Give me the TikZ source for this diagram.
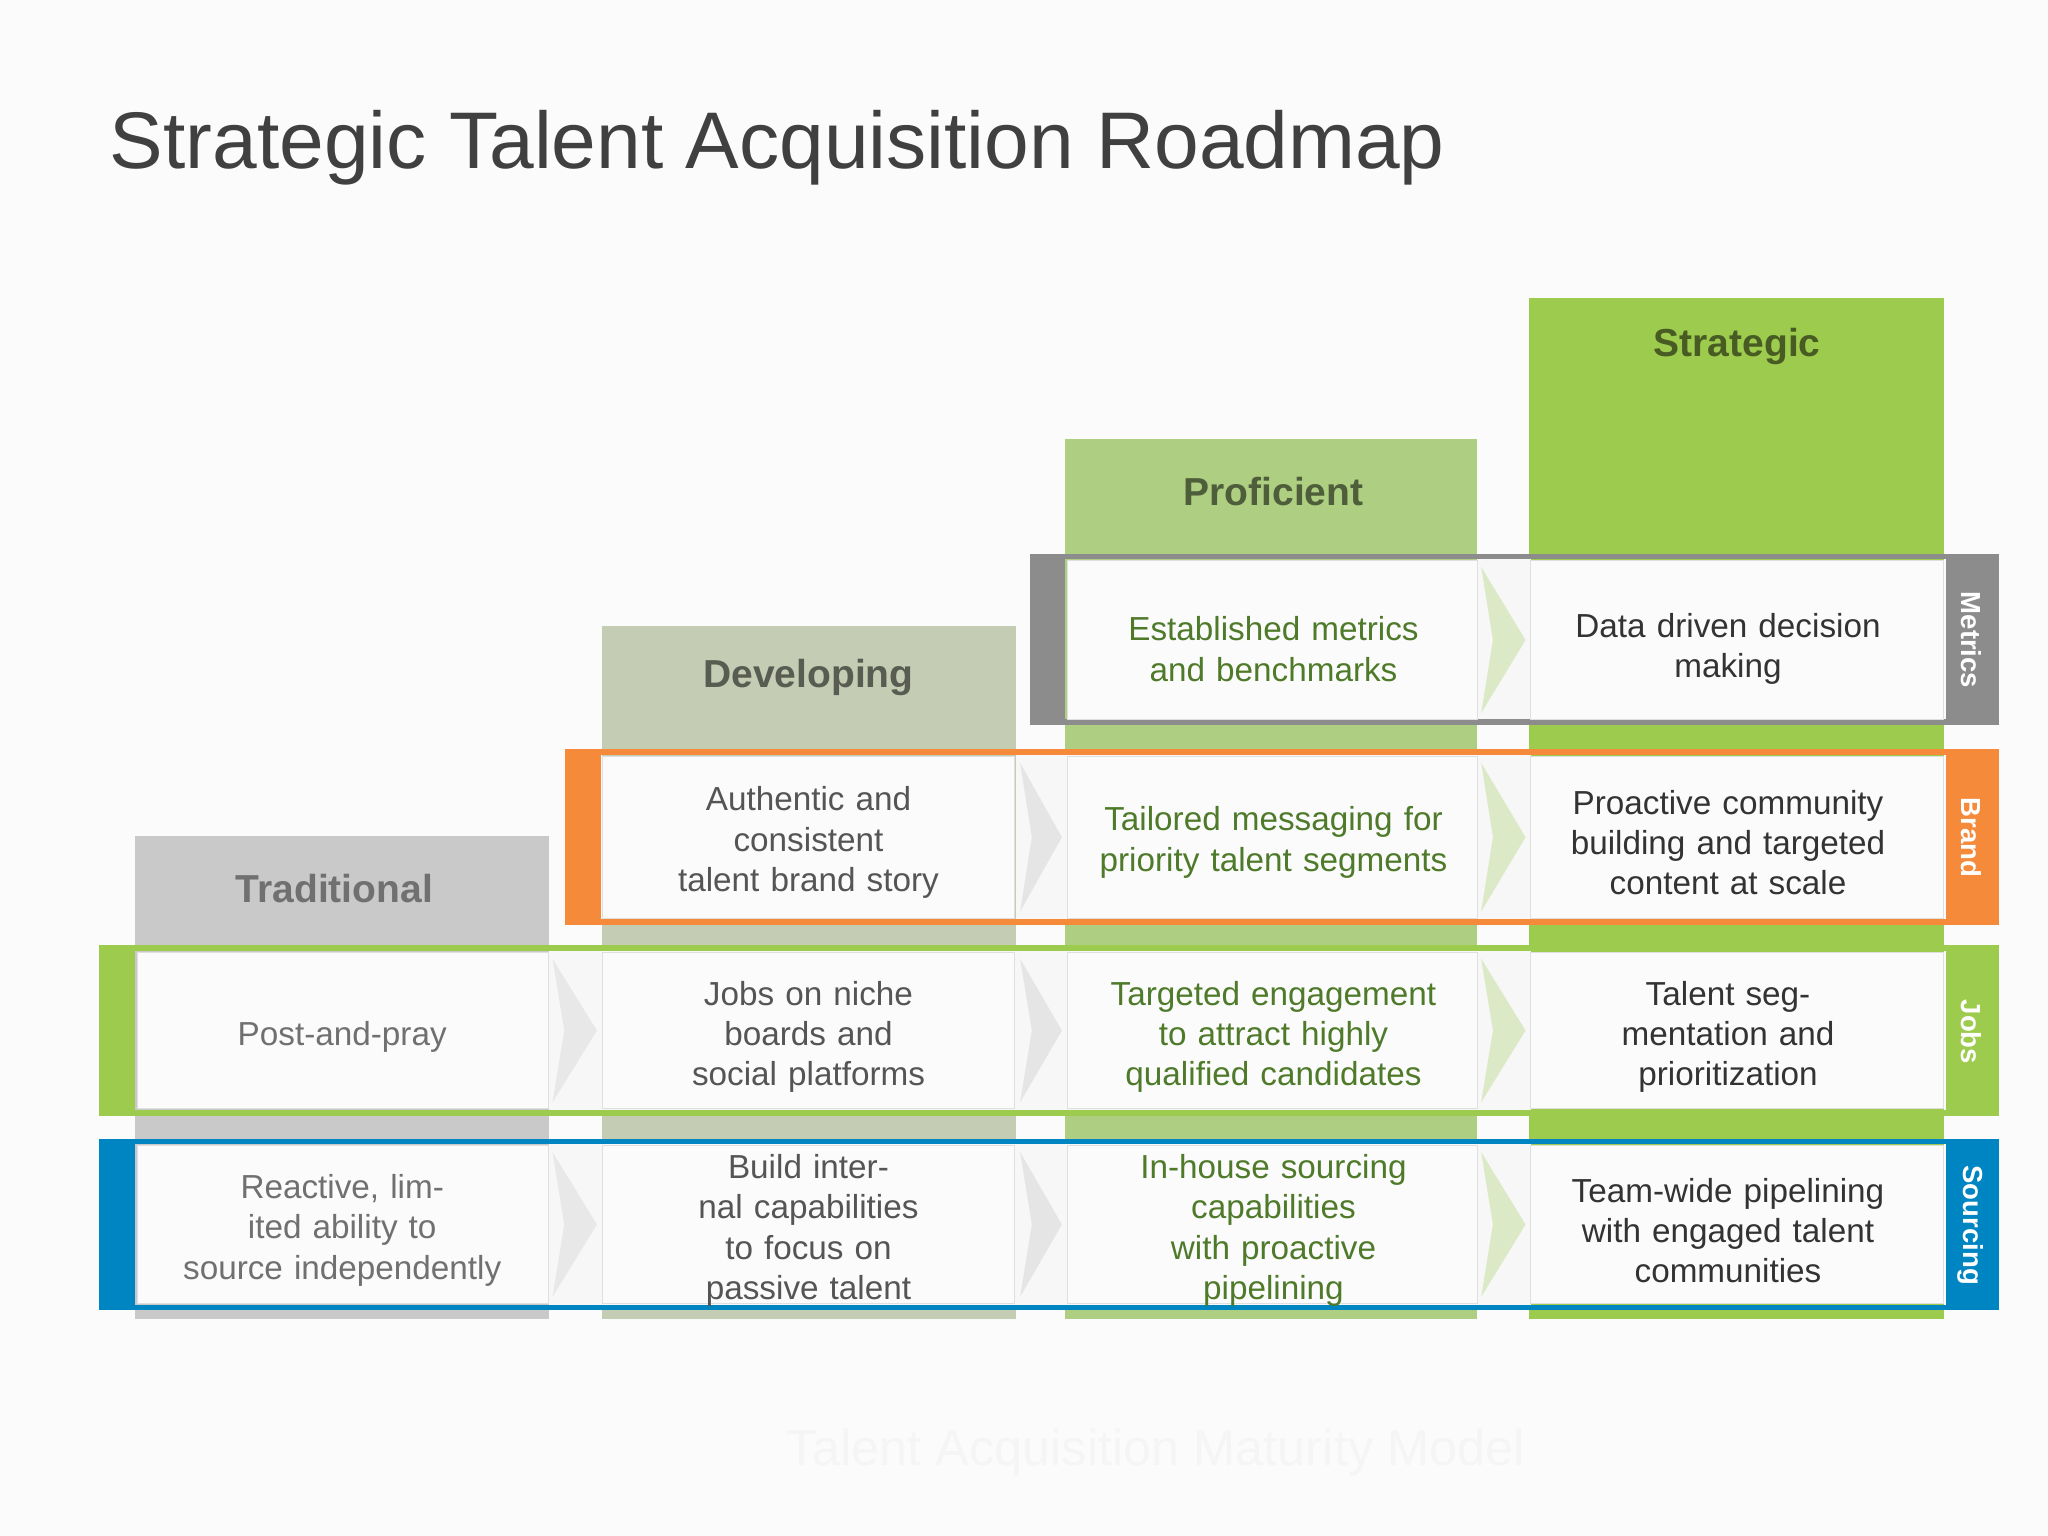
\documentclass[tikz,border=0pt]{standalone}
\usepackage{fontspec}
\setmainfont{Liberation Sans}
\begin{document}
\begin{tikzpicture}[x=0.02cm,y=-0.02cm,
  cellbox/.style={fill=white!97!gray,draw=gray!25,line width=0.4pt},
  celltxt/.style={align=center,font=\fontsize{14.5}{17.5}\selectfont,text width=5.4cm},
  hdr/.style={font=\fontsize{17}{20}\selectfont\bfseries},
  tab/.style={text=white,font=\fontsize{12}{14}\selectfont\bfseries,rotate=-90},
  chev/.style={fill=gray!18,draw=none}]
\definecolor{cTrad}{HTML}{C9C9C9}\definecolor{cDev}{HTML}{C5CCB4}
\definecolor{cProf}{HTML}{AECF82}\definecolor{cStrat}{HTML}{9DCB4E}
\definecolor{cMet}{HTML}{8C8C8C}\definecolor{cBrand}{HTML}{F58A3A}
\definecolor{cJobs}{HTML}{9DCB4E}\definecolor{cSrc}{HTML}{0085C3}
\definecolor{tTrad}{HTML}{707070}\definecolor{tDev}{HTML}{555555}
\definecolor{tProf}{HTML}{4E7A2A}\definecolor{tStrat}{HTML}{333333}
\useasboundingbox (0,0) rectangle (1568,1176);
\fill[white!97!gray] (0,0) rectangle (1568,1176);
\node[anchor=west,text=black!75,font=\fontsize{35}{40}\selectfont] (title) at (78,113) {Strategic Talent Acquisition Roadmap};
% columns
\fill[cTrad] (103,640) rectangle (420,1010);
\fill[cDev] (461,479) rectangle (778,1010);
\fill[cProf] (815,336) rectangle (1131,1010);
\fill[cStrat] (1171,228) rectangle (1488,1010);
\node[hdr,text=tTrad] (h1) at (256,680) {Traditional};
\node[hdr,text=black!55!cDev] (h2) at (619,519) {Developing};
\node[hdr,text=black!55!cProf] (h3) at (975,376) {Proficient};
\node[hdr,text=black!55!cStrat] (h4) at (1330,265) {Strategic};
% chevron helper: gap x1,x2, row y1,y2
\newcommand\chv[5]{\fill[#5] (#1+3,#3+6) -- (#2-4,{(#3+#4)/2}) -- (#1+3,#4-6) -- (#1+12,{(#3+#4)/2}) -- cycle;}
% METRICS
\fill[white!94!gray] (1131,428) rectangle (1172,552);
\chv{1131}{1172}{428}{552}{cProf!45}
\draw[cMet,line width=2.5pt] (791,426) rectangle (1528,553);
\fill[cMet] (791,425) rectangle (815,555);
\fill[cMet] (1490,425) rectangle (1528,555);
\node[tab] (tm) at (1509,490) {Metrics};
\fill[cellbox] (817,429) rectangle (1131,551);
\fill[cellbox] (1172,429) rectangle (1488,551);
\node[celltxt,text=tProf] (m3) at (975,497) {Established metrics\\and benchmarks};
\node[celltxt,text=tStrat] (m4) at (1323,497) {Data driven decision\\making};
% BRAND
\fill[white!94!gray] (778,578) rectangle (1172,704);
\chv{778}{817}{578}{704}{gray!20}
\chv{1131}{1172}{578}{704}{cProf!45}
\draw[cBrand,line width=2.5pt] (435,576) rectangle (1528,706);
\fill[cBrand] (435,575) rectangle (460,707);
\fill[cBrand] (1490,575) rectangle (1528,707);
\node[tab] (tb) at (1509,641) {Brand};
\fill[cellbox] (461,579) rectangle (777,703);
\fill[cellbox] (817,579) rectangle (1131,703);
\fill[cellbox] (1172,579) rectangle (1488,703);
\node[celltxt,text=tDev] (b2) at (619,645) {Authentic and consistent\\talent brand story};
\node[celltxt,text=tProf] (b3) at (975,645) {Tailored messaging for\\priority talent segments};
\node[celltxt,text=tStrat] (b4) at (1323,645) {Proactive community\\building and targeted\\content at scale};
% JOBS
\fill[white!94!gray] (420,728) rectangle (1172,850);
\chv{420}{461}{728}{850}{gray!18}
\chv{778}{817}{728}{850}{gray!20}
\chv{1131}{1172}{728}{850}{cProf!45}
\draw[cJobs,line width=2.5pt] (78,726) rectangle (1528,852);
\fill[cJobs] (78,725) rectangle (103,853);
\fill[cJobs] (1490,725) rectangle (1528,853);
\node[tab] (tj) at (1509,790) {Jobs};
\fill[cellbox] (105,729) rectangle (420,849);
\fill[cellbox] (461,729) rectangle (777,849);
\fill[cellbox] (817,729) rectangle (1131,849);
\fill[cellbox] (1172,729) rectangle (1488,849);
\node[celltxt,text=tTrad] (j1) at (262,794) {Post-and-pray};
\node[celltxt,text=tDev] (j2) at (619,794) {Jobs on niche boards and\\social platforms};
\node[celltxt,text=tProf] (j3) at (975,794) {Targeted engagement\\to attract highly\\qualified candidates};
\node[celltxt,text=tStrat] (j4) at (1323,794) {Talent segmentation and\\prioritization};
% SOURCING
\fill[white!94!gray] (420,876) rectangle (1172,999);
\chv{420}{461}{876}{999}{gray!18}
\chv{778}{817}{876}{999}{gray!20}
\chv{1131}{1172}{876}{999}{cProf!45}
\draw[cSrc,line width=2.5pt] (78,874) rectangle (1528,1001);
\fill[cSrc] (78,873) rectangle (103,1002);
\fill[cSrc] (1490,873) rectangle (1528,1002);
\node[tab] (ts) at (1509,938) {Sourcing};
\fill[cellbox] (105,877) rectangle (420,998);
\fill[cellbox] (461,877) rectangle (777,998);
\fill[cellbox] (817,877) rectangle (1131,998);
\fill[cellbox] (1172,877) rectangle (1488,998);
\node[celltxt,text=tTrad] (s1) at (262,942) {Reactive, limited ability to\\source independently};
\node[celltxt,text=tDev] (s2) at (619,942) {Build internal capabilities\\to focus on passive talent};
\node[celltxt,text=tProf] (s3) at (975,942) {In-house sourcing\\capabilities with proactive\\pipelining};
\node[celltxt,text=tStrat] (s4) at (1323,942) {Team-wide pipelining\\with engaged talent\\communities};
% faint footer
\node[text=white!92!gray,font=\fontsize{22}{26}\selectfont] (foot) at (885,1112) {Talent Acquisition Maturity Model};
\end{tikzpicture}
\end{document}
